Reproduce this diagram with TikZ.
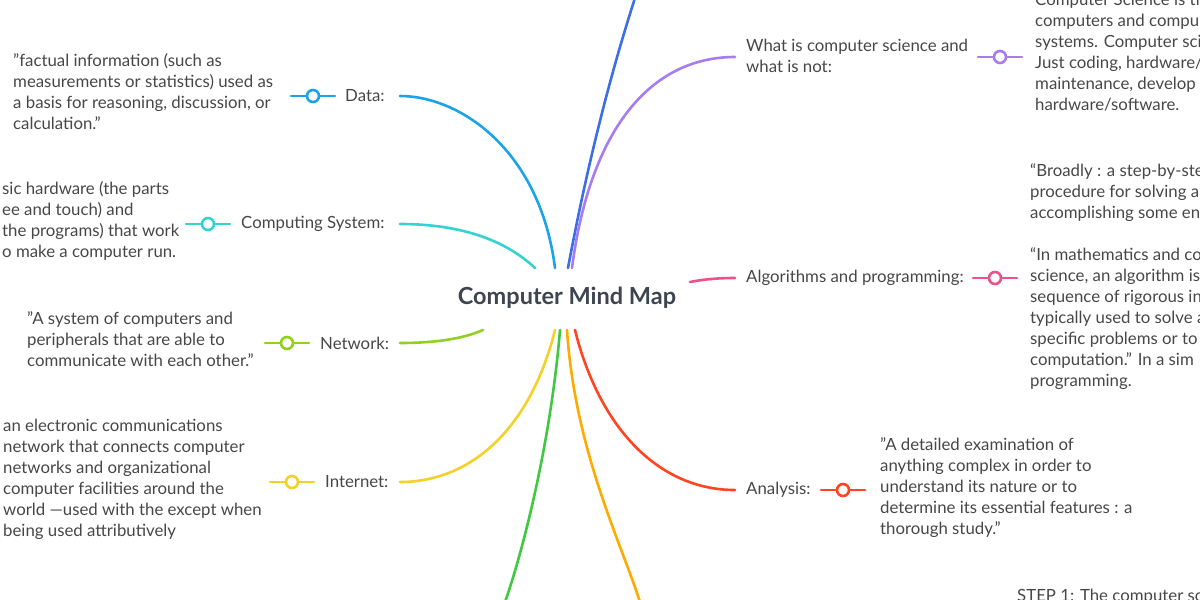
\documentclass[tikz,border=0pt]{standalone}
\usepackage{fontspec}
\setmainfont{Lato}
\newcommand{\qq}{\symbol{34}}
\begin{document}
\begin{tikzpicture}[x=1pt,y=-1pt,
  txt/.style={anchor=west,inner sep=0pt,font=\fontsize{16.8}{21}\selectfont,text=black!72},
  lbl/.style={anchor=west,inner sep=0pt,font=\fontsize{16.8}{21}\selectfont,text=black!72,align=left},
  br/.style={line width=2.6pt,line cap=round},
  dot/.style={circle,draw,line width=2.6pt,fill=white,minimum size=12pt,inner sep=0pt}]
\useasboundingbox (0,0) rectangle (1200,600);
\clip (0,0) rectangle (1200,600);
\definecolor{cblue}{HTML}{1AA3E8}\definecolor{ccyan}{HTML}{35D2D2}
\definecolor{cgreen}{HTML}{8FD11E}\definecolor{cyel}{HTML}{F5CF2A}
\definecolor{cgr2}{HTML}{40C840}\definecolor{corng}{HTML}{FFAA00}
\definecolor{cred}{HTML}{FF4420}\definecolor{cpink}{HTML}{F0508A}
\definecolor{cpur}{HTML}{A67CF0}\definecolor{cblu2}{HTML}{3D6EE8}
\definecolor{ctitle}{HTML}{3D4550}
\node[font=\bfseries\fontsize{23.5}{28}\selectfont,text=ctitle] (c) at (567,298) {Computer Mind Map};
\coordinate (dA) at (400,96);\coordinate (cA) at (400,224);\coordinate (nA) at (400,343);
\coordinate (iA) at (400,482);\coordinate (aA) at (735,490);\coordinate (pA) at (735,278);
\coordinate (wA) at (735,57);\coordinate (tB) at (635,-2);\coordinate (gB) at (505,602);\coordinate (oB) at (640,602);
\draw[br,cblue] (555,268) .. controls (540,150) and (460,96) .. (dA);
\draw[br,ccyan] (535,268) .. controls (500,235) and (450,224) .. (cA);
\draw[br,cgreen] (483,330) .. controls (460,340) and (430,343) .. (nA);
\draw[br,cyel] (555,330) .. controls (530,430) and (470,482) .. (iA);
\draw[br,cgr2] (560,330) .. controls (550,450) and (520,560) .. (gB);
\draw[br,corng] (567,330) .. controls (575,450) and (620,540) .. (oB);
\draw[br,cred] (575,330) .. controls (600,430) and (660,490) .. (aA);
\draw[br,cpink] (690,282) .. controls (705,279) and (720,278) .. (pA);
\draw[br,cpur] (572,268) .. controls (590,130) and (650,57) .. (wA);
\draw[br,cblu2] (568,268) .. controls (590,150) and (615,60) .. (tB);
\node[lbl] (ld) at (345,96) {Data:};
\node[lbl] (lc) at (241,224) {Computing System:};
\node[lbl] (ln) at (320,343) {Network:};
\node[lbl] (li) at (325,482) {Internet:};
\node[lbl] (la) at (746,490) {Analysis:};
\node[lbl] (lp) at (746,278) {Algorithms and programming:};
\node[lbl] (lw) at (746,56) {What is computer science and\\what is not:};
\foreach \n/\x/\y/\col in {d/313/96/cblue,c/208/224/ccyan,n/287/343/cgreen,i/292/482/cyel,a/843/490/cred,p/995/278/cpink,w/1000/57/cpur}{
  \draw[br,\col] (\x-22,\y) -- (\x+22,\y);
  \node[dot,draw=\col] (o\n) at (\x,\y) {};}
\node[txt,align=left,anchor=north west] (td) at (13,53) {\qq factual information (such as\\measurements or statistics) used as\\a basis for reasoning, discussion, or\\calculation.\qq};
\node[txt,align=left,anchor=north west] (tc) at (2,181) {sic hardware (the parts\\ee and touch) and\\the programs) that work\\o make a computer run.};
\node[txt,align=left,anchor=north west] (tn) at (27,311) {\qq A system of computers and\\peripherals that are able to\\communicate with each other.\qq};
\node[txt,align=left,anchor=north west] (ti) at (3,419) {an electronic communications\\network that connects computer\\networks and organizational\\computer facilities around the\\world ---used with the except when\\being used attributively};
\node[txt,align=left,anchor=north west] (ta) at (880,437) {\qq A detailed examination of\\anything complex in order to\\understand its nature or to\\determine its essential features : a\\thorough study.\qq};
\node[txt,align=left,anchor=north west] (tp1) at (1030,163) {“Broadly : a step-by-step\\procedure for solving a\\accomplishing some end};
\node[txt,align=left,anchor=north west] (tp2) at (1030,247) {“In mathematics and computer\\science, an algorithm is\\sequence of rigorous in\\typically used to solve a\\specific problems or to\\computation.” In a sim\\programming.};
\node[txt,align=left,anchor=north west] (tw) at (1035,-7) {Computer Science is th\\computers and compu\\systems. Computer sci\\Just coding, hardware/\\maintenance, develop\\hardware/software.};
\node[txt] (ts) at (1017,597) {STEP 1: The computer sc};
\end{tikzpicture}
\end{document}
